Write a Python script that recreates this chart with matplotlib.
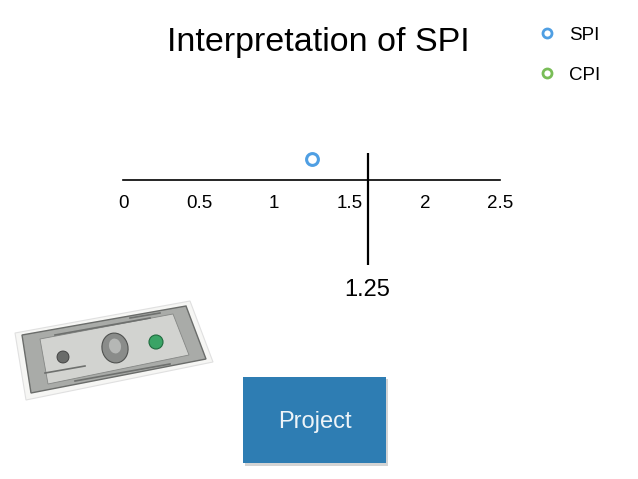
import matplotlib
matplotlib.use("Agg")
import matplotlib.pyplot as plt
from matplotlib.patches import Polygon, Rectangle, Ellipse, Circle
from matplotlib.lines import Line2D

plt.rcParams['font.family'] = ['Liberation Sans', 'DejaVu Sans']

# ---- data ----
tick_values = [0, 0.5, 1, 1.5, 2, 2.5]
tick_labels = ["0", "0.5", "1", "1.5", "2", "2.5"]
series_names = ["SPI", "CPI"]
series_colors = ["#4f9fe3", "#79bd57"]
spi_value = [1.25]
spi_level = [0.52]
threshold = 1.62
value_label = "1.25"
title = "Interpretation of SPI"
box_label = "Project"

W, H = 638, 479
fig = plt.figure(figsize=(W / 100, H / 100), dpi=100)
fig.patch.set_facecolor("white")

# background axes in pixel coordinates for decorations
bg = fig.add_axes([0, 0, 1, 1])
bg.set_xlim(0, W)
bg.set_ylim(H, 0)
bg.axis("off")

# dollar bill (decorative)
bill = Polygon([(15, 333), (190, 301), (213, 362), (26, 400)], closed=True,
               facecolor="#f6f6f4", edgecolor="#e0e0e0", lw=0.8, zorder=1)
bg.add_patch(bill)
inner = Polygon([(22, 335), (186, 306), (206, 359), (31, 393)], closed=True,
                facecolor="#a9aba8", edgecolor="#6a6c6a", lw=1.0, zorder=2)
bg.add_patch(inner)
inner2 = Polygon([(40, 339), (173, 314), (189, 355), (48, 384)], closed=True,
                 facecolor="#d2d3d0", edgecolor="#858785", lw=0.6, zorder=3)
bg.add_patch(inner2)
bg.add_patch(Ellipse((115, 348), 26, 30, angle=-12, facecolor="#8a8c8a",
                     edgecolor="#4f514f", lw=0.8, zorder=4))
bg.add_patch(Ellipse((115, 346), 12, 15, angle=-12, facecolor="#b5b7b5",
                     edgecolor="none", zorder=5))
bg.add_patch(Circle((156, 342), 7, facecolor="#3aa466", edgecolor="#1f6b3e",
                    lw=0.8, zorder=4))
bg.add_patch(Circle((63, 357), 6, facecolor="#6a6c6a", edgecolor="#3a3a3a", lw=0.6, zorder=4))
for (x0, y0, x1, y1) in [(55, 335, 150, 318), (75, 381, 170, 364),
                         (45, 373, 85, 366), (130, 318, 160, 313)]:
    bg.plot([x0, x1], [y0, y1], color="#6e706e", lw=1.2, zorder=4)

# project box
bg.add_patch(Rectangle((245, 379), 143, 87, facecolor="#b8b8b8", edgecolor="none",
                       alpha=0.6, zorder=1))
bg.add_patch(Rectangle((243, 377), 143, 86, facecolor="#2e7db3", edgecolor="none", zorder=2))
bg.text(314.5, 422, box_label, color="#eef4f8", fontsize=17, ha="center", va="center", zorder=3)

# title
fig.text(318 / W, 1 - 42 / H, title, fontsize=24.5, ha="center", va="center")

# ---- number line axes ----
ax_left, ax_right = 123, 500
ax_top, ax_bottom = 140, 300
ax = fig.add_axes([ax_left / W, 1 - ax_bottom / H, (ax_right - ax_left) / W,
                   (ax_bottom - ax_top) / H])
ax.patch.set_alpha(0)
ax.set_xlim(-0.005, 2.5)
ax.set_ylim(-3, 1)
for s in ["top", "left", "right"]:
    ax.spines[s].set_visible(False)
ax.spines["bottom"].set_position(("data", 0))
ax.spines["bottom"].set_linewidth(1.2)
ax.set_xticks(tick_values)
ax.set_xticklabels(tick_labels)
ax.tick_params(axis="x", length=0, pad=10.5, labelsize=13.5)
ax.set_yticks([])

ax.plot([threshold, threshold], [0.68, -2.12], color="black", lw=1.6, solid_capstyle="butt")
spi_line, = ax.plot(spi_value, spi_level, linestyle="none", marker="o", markersize=8.5,
                    markerfacecolor="white", markeredgecolor=series_colors[0],
                    markeredgewidth=2.2, clip_on=False)
ax.text(threshold, -2.75, value_label, fontsize=17, ha="center", va="center")

handles = [Line2D([], [], linestyle="none", marker="o", markersize=6.5,
                  markerfacecolor="white", markeredgecolor=c, markeredgewidth=2.0)
           for c in series_colors]
fig.legend(handles, series_names, loc="upper left",
           bbox_to_anchor=(528 / W, 1 - 19 / H), frameon=False, fontsize=13.5,
           handlelength=1.2, handletextpad=0.6, labelspacing=1.22, borderaxespad=0)

fig.savefig("out.png", dpi=100, facecolor="white")
